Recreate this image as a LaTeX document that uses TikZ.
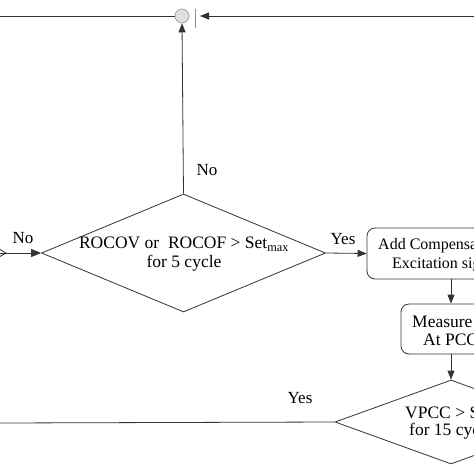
\documentclass[tikz,border=0pt]{standalone}
\usepackage{fontspec}
\setmainfont{Liberation Serif}
\usetikzlibrary{shapes.geometric,arrows.meta}
\begin{document}
\begin{tikzpicture}[x=1pt,y=-1pt,
  ln/.style={draw=black!80,line width=0.8pt},
  arr/.style={ln,-{Triangle[length=9pt,width=7pt]}},
  dia/.style={diamond,draw=black!80,line width=0.8pt,inner sep=0pt,minimum width=#1},
  rbox/.style={rectangle,rounded corners=8pt,draw=black!80,line width=0.8pt,inner sep=0pt},
  txt/.style={font=\fontsize{17.5}{19}\selectfont,inner sep=0pt,align=center},
  lbl/.style={font=\fontsize{17}{19}\selectfont,inner sep=0pt},
  bt/.style={font=\fontsize{16}{19}\selectfont,inner sep=0pt,anchor=base west},
  dt/.style={font=\fontsize{17.5}{19}\selectfont,inner sep=0pt,anchor=base west}]
\useasboundingbox (0,0) rectangle (474,474);
\clip (0,0) rectangle (474,474);
% nodes
\node[circle,draw=black!35,fill=black!12,line width=0.8pt,minimum size=14pt,inner sep=0pt] (c) at (182,16) {};
\node[dia=284pt,minimum height=118pt] (d1) at (183.5,253) {};
\node[txt] (t1) at (184,254) {ROCOV or\ \ ROCOF > Set\textsubscript{max}\\for 5 cycle};
\node[rbox,minimum width=168pt,minimum height=51pt] (b1) at (451,253.5) {};
\node[bt] (t2a) at (378,249) {Add Compensation};
\node[bt] (t2b) at (392,268) {Excitation signal};
\node[rbox,minimum width=100pt,minimum height=50pt] (b2) at (451,329) {};
\node[dt] (t3a) at (412,327) {Measure Voltage};
\node[dt] (t3b) at (423,345) {At PCC};
\node[dia=232pt,minimum height=84pt] (d2) at (451,422) {};
\node[dt] (t4a) at (405,418) {VPCC > Set\textsubscript{max}};
\node[dt] (t4b) at (409,435) {for 15 cycle};
% free ends
\coordinate (tl) at (0,16);
\coordinate (tr) at (480,16);
\coordinate (tb) at (200,16);
\coordinate (lf) at (0,253);
\coordinate (bl) at (0,423);
% connectors
\draw[ln] (tl) -- (c.west);
\draw[arr] (tr) -- (tb);
\draw[draw=black!45,line width=1pt] (195,9) -- (195,28);
\draw[arr] (d1.north) -- (c.south);
\draw[ln,{Triangle[length=10pt,width=8pt]}-] (d1.west) -- (lf);
\draw[ln] (0,249.5) -- (6,253) -- (0,256.5);
\draw[arr] (d1.east) -- (b1.west);
\draw[arr] (b1.south) -- (b2.north);
\draw[arr] (b2.south) -- (d2.north);
\draw[ln] (d2.west) -- (bl);
% labels
\node[lbl] (n1) at (207,170) {No};
\node[lbl] (n2) at (23,238) {No};
\node[lbl] (y1) at (343,239) {Yes};
\node[lbl] (y2) at (300,398) {Yes};
\end{tikzpicture}
\end{document}
